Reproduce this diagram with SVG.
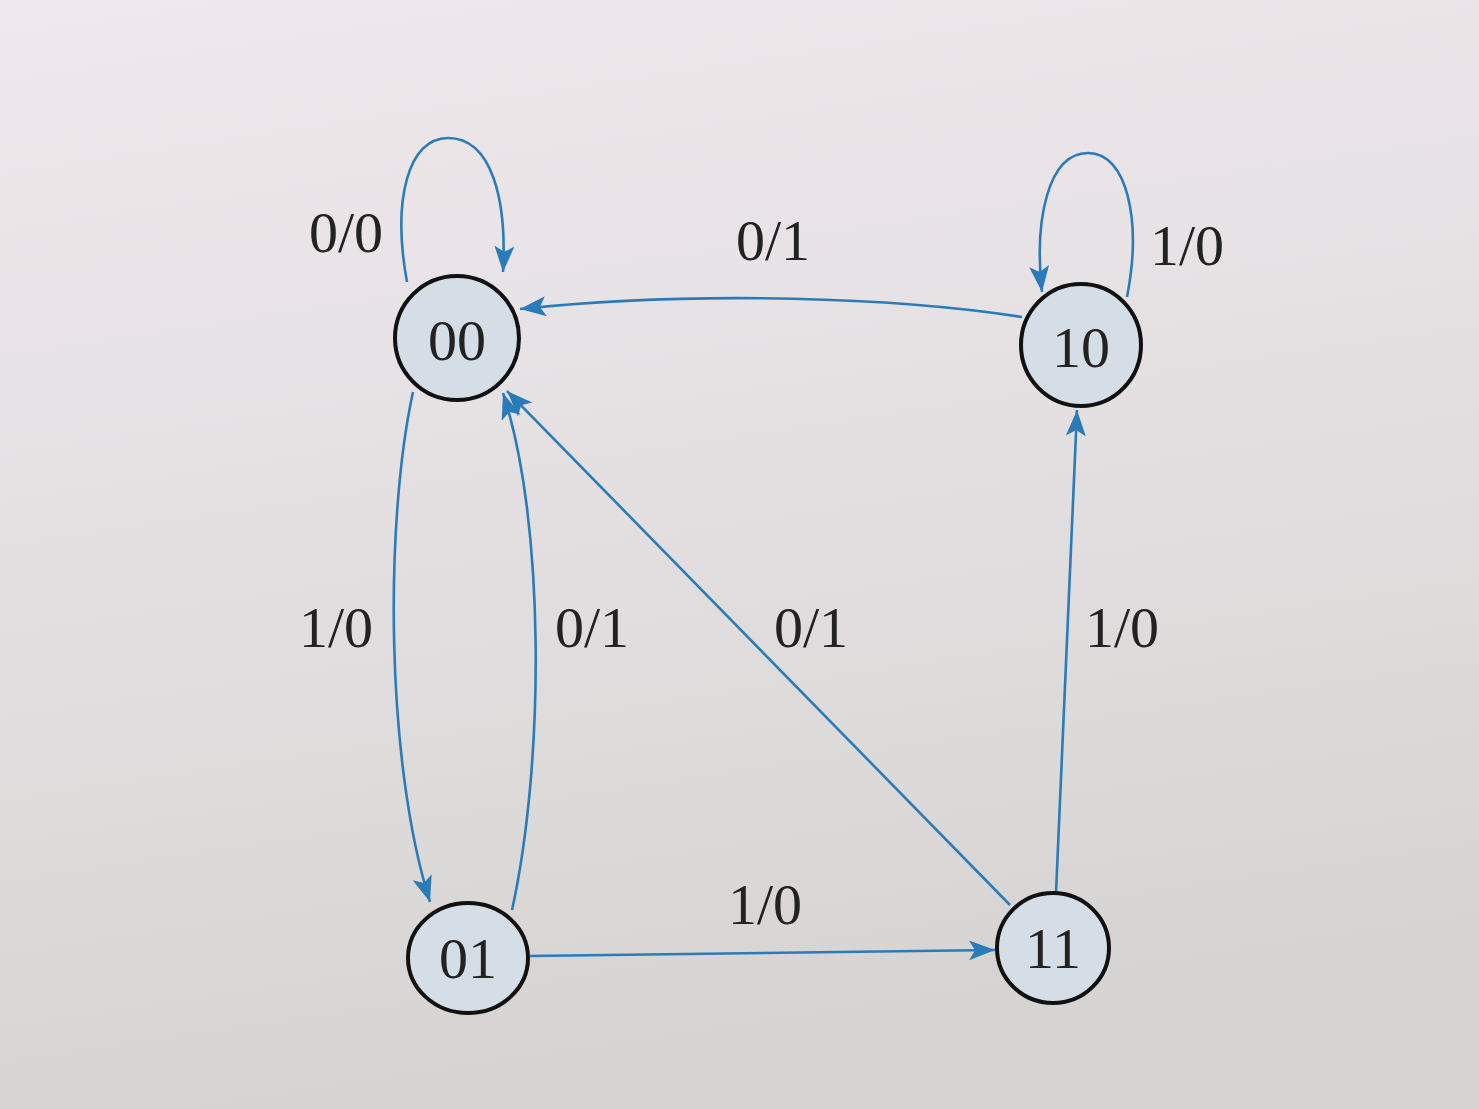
<svg xmlns="http://www.w3.org/2000/svg" width="1479" height="1109" viewBox="0 0 1479 1109">
<defs>
<linearGradient id="bg" x1="0" y1="0" x2="0.2" y2="1">
<stop offset="0" stop-color="#efe8ec"/>
<stop offset="0.5" stop-color="#e4e0e2"/>
<stop offset="1" stop-color="#d6d4d2"/>
</linearGradient>
<marker id="arr" markerUnits="userSpaceOnUse" markerWidth="30" markerHeight="24" refX="26" refY="10" orient="auto">
<path d="M0,0 L26,10 L0,20 L6,10 Z" fill="#2b7bb9"/>
</marker>
<style>
.edge{fill:none;stroke:#2b7bb9;stroke-width:2.6;marker-end:url(#arr)}
.node{fill:#d5dde6;stroke:#111;stroke-width:4}
.nl{font-family:"Liberation Serif",serif;font-size:58px;fill:#222;text-anchor:middle}
.el{font-family:"Liberation Serif",serif;font-size:58px;fill:#222;text-anchor:middle}
</style>
</defs>
<rect width="1479" height="1109" fill="url(#bg)"/>
<g id="connectors">
<path class="edge" d="M407,282 C392,200 408,138 448,138 C492,138 507,200 503,272"/>
<path class="edge" d="M1127,297 C1142,220 1127,153 1088,153 C1048,153 1034,220 1042,292"/>
<path class="edge" d="M1022,317 C900,298 700,290 520,309"/>
<path class="edge" d="M413,392 C385,520 385,760 430,902"/>
<path class="edge" d="M512,910 C545,760 545,520 503,393"/>
<path class="edge" d="M1010,905 L507,391"/>
<path class="edge" d="M1056,893 L1077,410"/>
<path class="edge" d="M530,956 L995,950"/>
</g>
<g id="labels">
<text class="el" x="346" y="252">0/0</text>
<text class="el" x="773" y="260">0/1</text>
<text class="el" x="1187" y="265">1/0</text>
<text class="el" x="336" y="647">1/0</text>
<text class="el" x="592" y="647">0/1</text>
<text class="el" x="811" y="647">0/1</text>
<text class="el" x="1122" y="647">1/0</text>
<text class="el" x="765" y="924">1/0</text>
</g>
<g id="node-00"><ellipse class="node" cx="457" cy="338" rx="62" ry="62"/><text class="nl" x="457" y="360">00</text></g>
<g id="node-10"><ellipse class="node" cx="1081" cy="345" rx="60" ry="61"/><text class="nl" x="1081" y="367">10</text></g>
<g id="node-01"><ellipse class="node" cx="468" cy="958" rx="60" ry="55"/><text class="nl" x="468" y="978">01</text></g>
<g id="node-11"><ellipse class="node" cx="1053" cy="948" rx="56" ry="55"/><text class="nl" x="1053" y="968">11</text></g>
</svg>
